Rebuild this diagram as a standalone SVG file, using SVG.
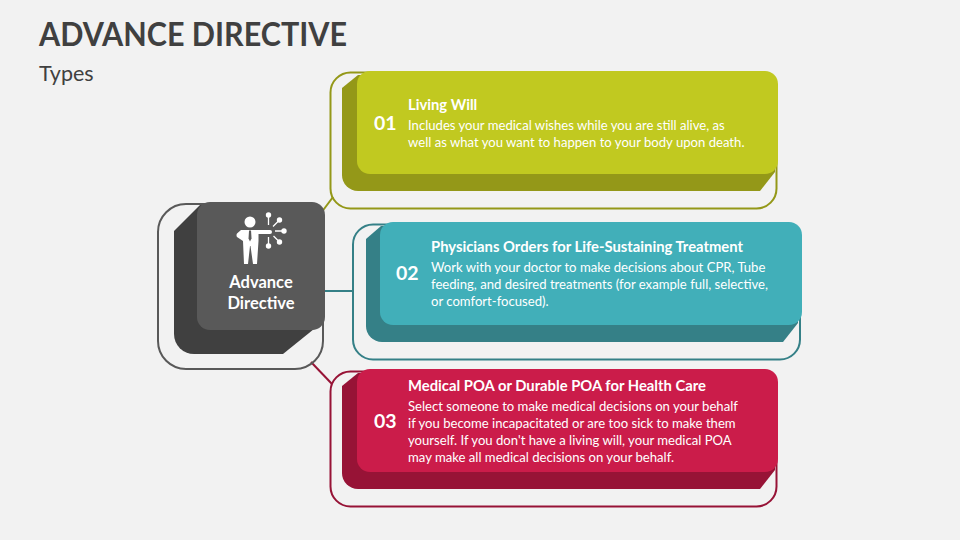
<svg xmlns="http://www.w3.org/2000/svg" width="960" height="540" viewBox="0 0 960 540">
<style>
text{font-family:"Lato","Carlito","Liberation Sans",sans-serif;fill:#fff}
.t{font-weight:700;font-size:14.800px}
.b{font-size:13.120px}
.n{font-weight:700;font-size:19.500px}
.o{fill:none;stroke-width:2}
.c{fill:none;stroke-width:2}
</style>
<rect width="960" height="540" fill="#f2f2f2"/>
<text x="39" y="46" textLength="308" lengthAdjust="spacingAndGlyphs" style="font-size:32px;font-weight:700;fill:#404040">ADVANCE DIRECTIVE</text>
<text x="39" y="81" style="font-size:21.500px;fill:#404040">Types</text>
<g id="connectors">
<path class="c" d="M321 213L333 197" stroke="#949818"/>
<path class="c" d="M324 291H353" stroke="#358087"/>
<path class="c" d="M311 362L332 384" stroke="#971336"/>
</g>
<g id="node-center">
<rect class="o" x="158" y="204" width="165" height="165" rx="28" stroke="#595959"/>
<path d="M200 205L174 231V334a20 20 0 0 0 20 20H283L314 329V210Z" fill="#404040"/>
<rect x="197" y="202" width="128" height="128" rx="13" fill="#595959"/>
<g fill="#fff" stroke="none">
<circle cx="250" cy="222" r="5.500"/>
<path d="M241 230H270a1.500 1.500 0 0 1 0 4H258.500V241L257 264H253L250.500 246H250L248 264H244L243 241L237 237Q236 235 237 233.500Z"/>
<circle cx="268.500" cy="215" r="2.700"/>
<circle cx="279.500" cy="220" r="2.700"/>
<circle cx="284" cy="231" r="2.700"/>
<circle cx="279.500" cy="242" r="2.700"/>
<circle cx="268.500" cy="246" r="2.700"/>
</g>
<g stroke="#fff" stroke-width="1.300" fill="none">
<path d="M268.500 215V225M279.500 220L273 226.500M284 231H275M279.500 242L273.500 236M268.500 246V237"/>
</g>
<path d="M249 230.500h2l.5 8-1.500 3-1.500-3z" fill="#595959"/>
<text x="261" y="288" text-anchor="middle" style="font-weight:700;font-size:16.500px">Advance</text>
<text x="261" y="309" text-anchor="middle" style="font-weight:700;font-size:16.500px">Directive</text>
</g>
<g id="node-1">
<rect class="o" x="330.500" y="72.500" width="446" height="136" rx="20" stroke="#949818"/>
<path d="M358 75L342 88V175a16 16 0 0 0 16 16H760L775 172V80Z" fill="#949818"/>
<rect x="357" y="71" width="421" height="103" rx="13" fill="#c1c920"/>
<text class="n" x="374" y="130">01</text>
<text class="t" x="408" y="109.500">Living Will</text>
<text class="b" x="408" y="130">Includes your medical wishes while you are still alive, as</text>
<text class="b" x="408" y="147">well as what you want to happen to your body upon death.</text>
</g>
<g id="node-2">
<rect class="o" x="353" y="224.500" width="447" height="135" rx="20" stroke="#358087"/>
<path d="M381 226L366 239V326a16 16 0 0 0 16 16H783L798 323V232Z" fill="#358087"/>
<rect x="380" y="222" width="422" height="103" rx="13" fill="#41afb9"/>
<text class="n" x="396" y="280">02</text>
<text class="t" x="431" y="252">Physicians Orders for Life-Sustaining Treatment</text>
<text class="b" x="431" y="272">Work with your doctor to make decisions about CPR, Tube</text>
<text class="b" x="431" y="289">feeding, and desired treatments (for example full, selective,</text>
<text class="b" x="431" y="306">or comfort-focused).</text>
</g>
<g id="node-3">
<rect class="o" x="330.500" y="371.500" width="446" height="135" rx="20" stroke="#971336"/>
<path d="M358 373L342 386V473a16 16 0 0 0 16 16H760L775 470V378Z" fill="#971336"/>
<rect x="357" y="369" width="421" height="103" rx="13" fill="#cb1c4a"/>
<text class="n" x="374" y="428">03</text>
<text class="t" x="408" y="391">Medical POA or Durable POA for Health Care</text>
<text class="b" x="408" y="411">Select someone to make medical decisions on your behalf</text>
<text class="b" x="408" y="428">if you become incapacitated or are too sick to make them</text>
<text class="b" x="408" y="445">yourself. If you don't have a living will, your medical POA</text>
<text class="b" x="408" y="462">may make all medical decisions on your behalf.</text>
</g>
</svg>
